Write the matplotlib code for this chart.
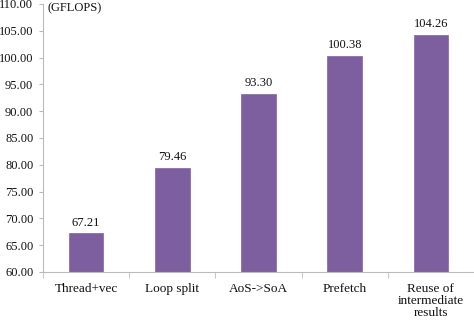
import matplotlib
matplotlib.use("Agg")
import matplotlib.pyplot as plt
import numpy as np

categories = ["Thread+vec", "Loop split", "AoS->SoA", "Prefetch", "Reuse of\nintermediate\nresults"]
gflops = [67.21, 79.46, 93.30, 100.38, 104.26]
yticks = [60, 65, 70, 75, 80, 85, 90, 95, 100, 105, 110]

plt.rcParams['font.family'] = ['Liberation Serif', 'DejaVu Serif']

fig = plt.figure(figsize=(4.74, 3.2), dpi=100)
ax = fig.add_axes([0.0907, 0.15, 0.9093, 0.8375])

x = np.arange(len(categories))
ax.bar(x, [v - 60 for v in gflops], bottom=60, width=0.4, color="#7d5fa0", edgecolor="#8a70aa", linewidth=0.6)

# value labels above bars
for xi, v in zip(x, gflops):
    ax.text(xi, v + 0.8, f"{v:.2f}", ha="center", va="bottom", fontsize=9, color="#111111")

ax.set_xlim(-0.5, 4.5)
ax.set_ylim(60, 110)
ax.set_yticks(yticks)
ax.set_yticklabels([f"{t:.2f}" for t in yticks], fontsize=9, color="#111111")
ax.set_xticks(x)
ax.set_xticklabels(categories, fontsize=9.5, color="#111111", linespacing=1.0, va="top")
ax.set_xticks(np.arange(-0.5, 5, 1), minor=True)
ax.tick_params(axis="x", which="major", length=0, pad=8)
ax.tick_params(axis="x", which="minor", length=4, color="#bbbbbb")
ax.tick_params(axis="y", length=3, color="#bbbbbb", pad=4)

for s in ["top", "right"]:
    ax.spines[s].set_visible(False)
ax.spines["left"].set_color("#bbbbbb")
ax.spines["bottom"].set_color("#bbbbbb")

ax.text(0.01, 0.985, "(GFLOPS)", transform=ax.transAxes, ha="left", va="center", fontsize=9, color="#111111")

fig.savefig("out.png", dpi=100)
